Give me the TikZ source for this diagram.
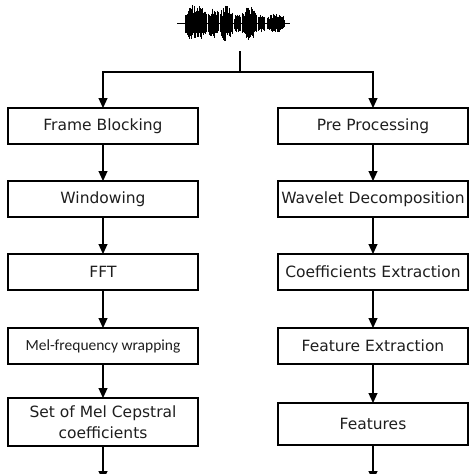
\documentclass[tikz,border=0pt]{standalone}
\usepackage{fontspec}
\setmainfont{DejaVu Sans}
\newfontfamily\calibrifont{Carlito}
\usepackage{tikz}
\usetikzlibrary{arrows.meta, positioning}
\definecolor{boxtext}{RGB}{30,30,30}
\tikzset{
  stage/.style={
    rectangle, minimum width=190pt, minimum height=36pt, inner sep=2pt,
    outer sep=0pt, draw=black, line width=1.4pt, align=center,
    font=\fontsize{15.5}{21}\selectfont, text=boxtext
  },
  arrow/.style={-{Triangle[length=10pt, width=9pt]}, line width=1.2pt},
  link/.style={line width=1.2pt},
  wave/.style={line width=1pt}
}

\begin{document}
\begin{tikzpicture}[x=1pt, y=1pt, node distance=37pt and 80pt]
  \useasboundingbox (0,0) rectangle (474,-474);

  % Speech signal
  \pgfmathsetseed{11}
  \draw[wave, line width=0.8pt] (177,-23.3) -- (290,-23.3);
  \foreach \xa/\xb/\amp in {185/207/19, 208/219/16, 220/233/18, 234/241/10,
                            242/257/17, 258/265/10, 267/285/10}{
    \pgfmathsetmacro\xn{\xa+0.6}
    \foreach \x in {\xa,\xn,...,\xb}{
      \pgfmathsetmacro\env{0.35+0.65*sqrt(abs(sin(180*(\x-\xa+0.5)/(\xb-\xa+1))))}
      \pgfmathsetmacro\hu{\amp*\env*(0.5+0.5*rnd)}
      \pgfmathsetmacro\hd{\amp*\env*(0.5+0.5*rnd)}
      \draw[wave] (\x,-23.3+\hu) -- (\x,-23.3-\hd);
    }
  }
  \coordinate (wave) at (240,-51);
  \coordinate (split) at (240,-72);

  % MFCC branch
  \node[stage] (frame) at (103,-126) {Frame Blocking};
  \node[stage, below=of frame] (window) {Windowing};
  \node[stage, below=of window] (fft) {FFT};
  \node[stage, below=38pt of fft,
        font=\calibrifont\fontsize{15.5}{19}\selectfont] (melwrap)
    {Mel-frequency wrapping};
  \node[stage, below=34pt of melwrap, minimum height=48pt] (mfcc)
    {Set of Mel Cepstral\\coefficients};

  % Wavelet branch
  \node[stage, right=of frame] (prep) {Pre Processing};
  \node[stage, below=of prep] (wavelet) {Wavelet Decomposition};
  \node[stage, below=of wavelet] (coeff) {Coefficients Extraction};
  \node[stage, below=38pt of coeff] (featx) {Feature Extraction};
  \node[stage, below=39pt of featx, minimum height=42pt] (feat) {Features};

  \coordinate[below=35pt of mfcc.south] (mfccout);
  \coordinate[below=36pt of feat.south] (featout);

  % Arrows
  \draw[link] (wave) -- (split);
  \draw[arrow] (split) -| (frame);
  \draw[arrow] (split) -| (prep);
  \draw[arrow] (frame) -- (window);
  \draw[arrow] (window) -- (fft);
  \draw[arrow] (fft) -- (melwrap);
  \draw[arrow] (melwrap) -- (mfcc);
  \draw[arrow] (mfcc) -- (mfccout);
  \draw[arrow] (prep) -- (wavelet);
  \draw[arrow] (wavelet) -- (coeff);
  \draw[arrow] (coeff) -- (featx);
  \draw[arrow] (featx) -- (feat);
  \draw[arrow] (feat) -- (featout);
\end{tikzpicture}
\end{document}
